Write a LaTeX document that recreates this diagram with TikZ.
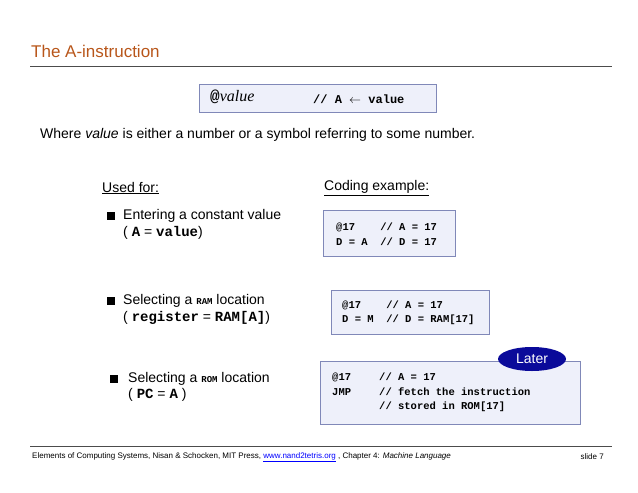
\documentclass[tikz,border=0pt]{standalone}
\usepackage{fontspec}
\setmainfont{Liberation Sans}
\newfontfamily\codefont{Liberation Mono}
\newfontfamily\serifit{Liberation Serif}
\usetikzlibrary{shapes.geometric}
\definecolor{boxfill}{HTML}{EEF0FA}
\definecolor{boxline}{HTML}{8088B8}
\definecolor{titlec}{HTML}{B8561A}
\definecolor{latec}{HTML}{0A0A9A}
\tikzset{
 codebox/.style={draw=boxline,fill=boxfill,line width=1pt,anchor=north west,inner sep=0pt},
 code/.style={font=\codefont\bfseries\fontsize{10.5}{12}\selectfont,anchor=west,inner sep=0pt},
 body/.style={font=\fontsize{14}{16}\selectfont,anchor=west,inner sep=0pt},
 bullet/.style={fill=black,minimum size=7.5pt,inner sep=0pt},
 rule/.style={draw=black!70,line width=0.8pt}
}
\begin{document}
\begin{tikzpicture}[x=1pt,y=-1pt]
\useasboundingbox (0,0) rectangle (638,493);
\node[anchor=west,inner sep=0pt,text=titlec,font=\fontsize{17}{19}\selectfont] (title) at (31,51) {The A-instruction};
\coordinate (l1a) at (30,66); \coordinate (l1b) at (612,66);
\draw[rule] (l1a) -- (l1b);
\node[codebox,minimum width=237pt,minimum height=28pt] (top) at (199,84) {};
\node[anchor=west,inner sep=0pt,font=\fontsize{16}{18}\selectfont] (at) at (210,97) {{\codefont\bfseries @}{\serifit\itshape value}};
\node[code,font=\codefont\bfseries\fontsize{12}{14}\selectfont] (cmt) at (313,99) {// A $\leftarrow$ value};
\node[body] (where) at (40,135) {Where \textit{value} is either a number or a symbol referring to some number.};
\node[body] (used) at (102,188) {\underline{Used for:}};
\node[body] (codex) at (324,188) {\underline{Coding example:}};
% item 1
\node[bullet] (b1) at (111,216) {};
\node[body] (t1) at (123,216) {Entering a constant value};
\node[body] (t1b) at (123,233) {( {\codefont\bfseries A} = {\codefont\bfseries value})};
\node[codebox,minimum width=132pt,minimum height=46pt] (c1) at (323,210) {};
\node[code] at (336,227) {@17~~~~// A = 17};
\node[code] at (336,242) {D = A~~// D = 17};
% item 2
\node[bullet] (b2) at (111,301) {};
\node[body] (t2) at (123,301) {Selecting a {\codefont\bfseries\small RAM} location};
\node[body] (t2b) at (123,318) {( {\codefont\bfseries register} = {\codefont\bfseries RAM[A]})};
\node[codebox,minimum width=158pt,minimum height=44pt] (c2) at (331,290) {};
\node[code] at (342,305) {@17~~~~// A = 17};
\node[code] at (342,320) {D = M~~// D = RAM[17]};
% item 3
\node[bullet] (b3) at (114,379) {};
\node[body] (t3) at (128,379) {Selecting a {\codefont\bfseries\small ROM} location};
\node[body] (t3b) at (128,395) {( {\codefont\bfseries PC} = {\codefont\bfseries A} )};
\node[codebox,minimum width=260pt,minimum height=63pt] (c3) at (320,361) {};
\node[code] at (332,377) {@17};
\node[code] at (332,392) {JMP};
\node[code] at (379,377) {// A = 17};
\node[code] at (379,392) {// fetch the instruction};
\node[code] at (379,407) {// stored in ROM[17]};
\node[ellipse,fill=latec,text=white,minimum width=68pt,minimum height=24pt,inner sep=0pt,font=\fontsize{14}{16}\selectfont] (later) at (532,359) {Later};
% footer
\coordinate (l2a) at (30,446); \coordinate (l2b) at (612,446);
\draw[rule] (l2a) -- (l2b);
\node[anchor=west,inner sep=0pt,font=\fontsize{8}{10}\selectfont] (foot) at (32,457) {Elements of Computing Systems, Nisan \& Schocken, MIT Press, \textcolor{blue}{\underline{www.nand2tetris.org}} , Chapter 4: \textit{Machine Language}};
\node[anchor=east,inner sep=0pt,font=\fontsize{8}{10}\selectfont] (slide) at (604,457) {slide 7};
\end{tikzpicture}
\end{document}
